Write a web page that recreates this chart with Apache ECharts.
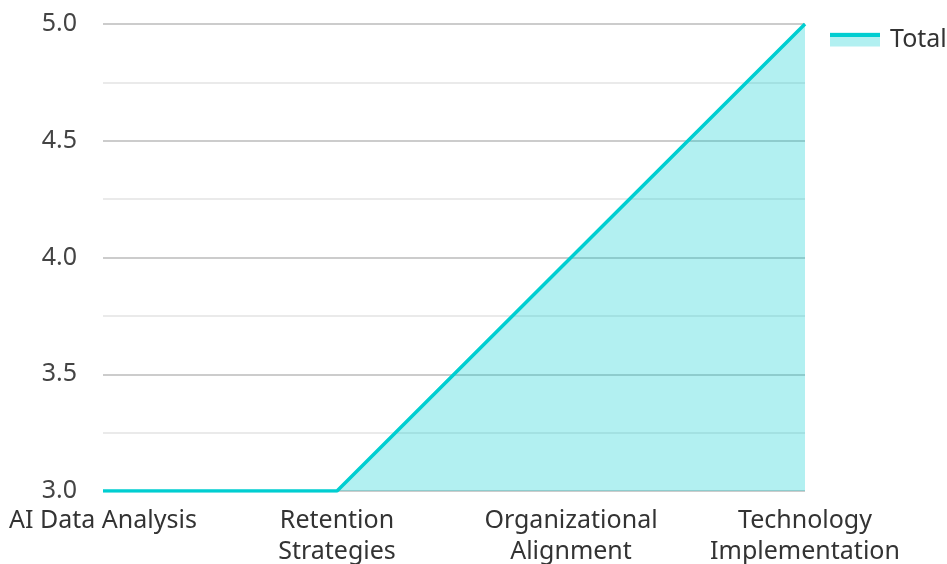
<!DOCTYPE html>
<html>
<head>
<meta charset="utf-8">
<script src="https://cdn.jsdelivr.net/npm/echarts@6/dist/echarts.min.js"></script>
<style>
html, body { margin: 0; padding: 0; background: #fff; }
#main { width: 947px; height: 564px; }
</style>
</head>
<body>
<div id="main"></div>
<script>
// 数据
var categories = ['AI Data Analysis', 'Retention\nStrategies', 'Organizational\nAlignment', 'Technology\nImplementation'];
var totalValues = [3, 3, 4, 5];
var seriesName = 'Total';

var myChart = echarts.init(document.getElementById('main'));
var option = {
    animation: false,
    textStyle: { fontFamily: 'Noto Sans' },
    grid: { left: 103, right: 142, top: 24, bottom: 73, containLabel: false, outerBoundsMode: 'none' },
    legend: {
        data: [seriesName],
        left: 830,
        top: 27,
        padding: 0,
        icon: 'rect',
        itemWidth: 50,
        itemHeight: 14,
        itemGap: 10,
        itemStyle: { color: '#b2f0f1', borderWidth: 0 },
        textStyle: { fontSize: 25, color: '#333', fontFamily: 'Noto Sans', padding: [0, 0, 0, 5] }
    },
    graphic: [{
        type: 'rect',
        left: 830,
        top: 33,
        shape: { width: 50, height: 4 },
        style: { fill: '#00CED1' },
        z: 100
    }],
    xAxis: {
        type: 'category',
        data: categories,
        boundaryGap: false,
        axisLine: { show: false },
        axisTick: { show: false },
        axisLabel: { fontSize: 25, color: '#333', lineHeight: 31, margin: 14, interval: 0 }
    },
    yAxis: {
        type: 'value',
        min: 3,
        max: 5,
        interval: 0.5,
        axisLine: { show: false },
        axisTick: { show: false },
        axisLabel: {
            fontSize: 25, color: '#444', margin: 26,
            formatter: function (v) { return v.toFixed(1); }
        },
        splitLine: { lineStyle: { color: '#ccc', width: 2 } },
        minorTick: { show: false, splitNumber: 2 },
        minorSplitLine: { show: true, lineStyle: { color: '#eaeaea', width: 2 } }
    },
    series: [{
        name: seriesName,
        type: 'line',
        data: totalValues,
        showSymbol: false,
        lineStyle: { color: '#00CED1', width: 3.5 },
        itemStyle: { color: '#00CED1' },
        areaStyle: { color: '#00CED1', opacity: 0.3 }
    }]
};
myChart.setOption(option);
</script>
</body>
</html>
